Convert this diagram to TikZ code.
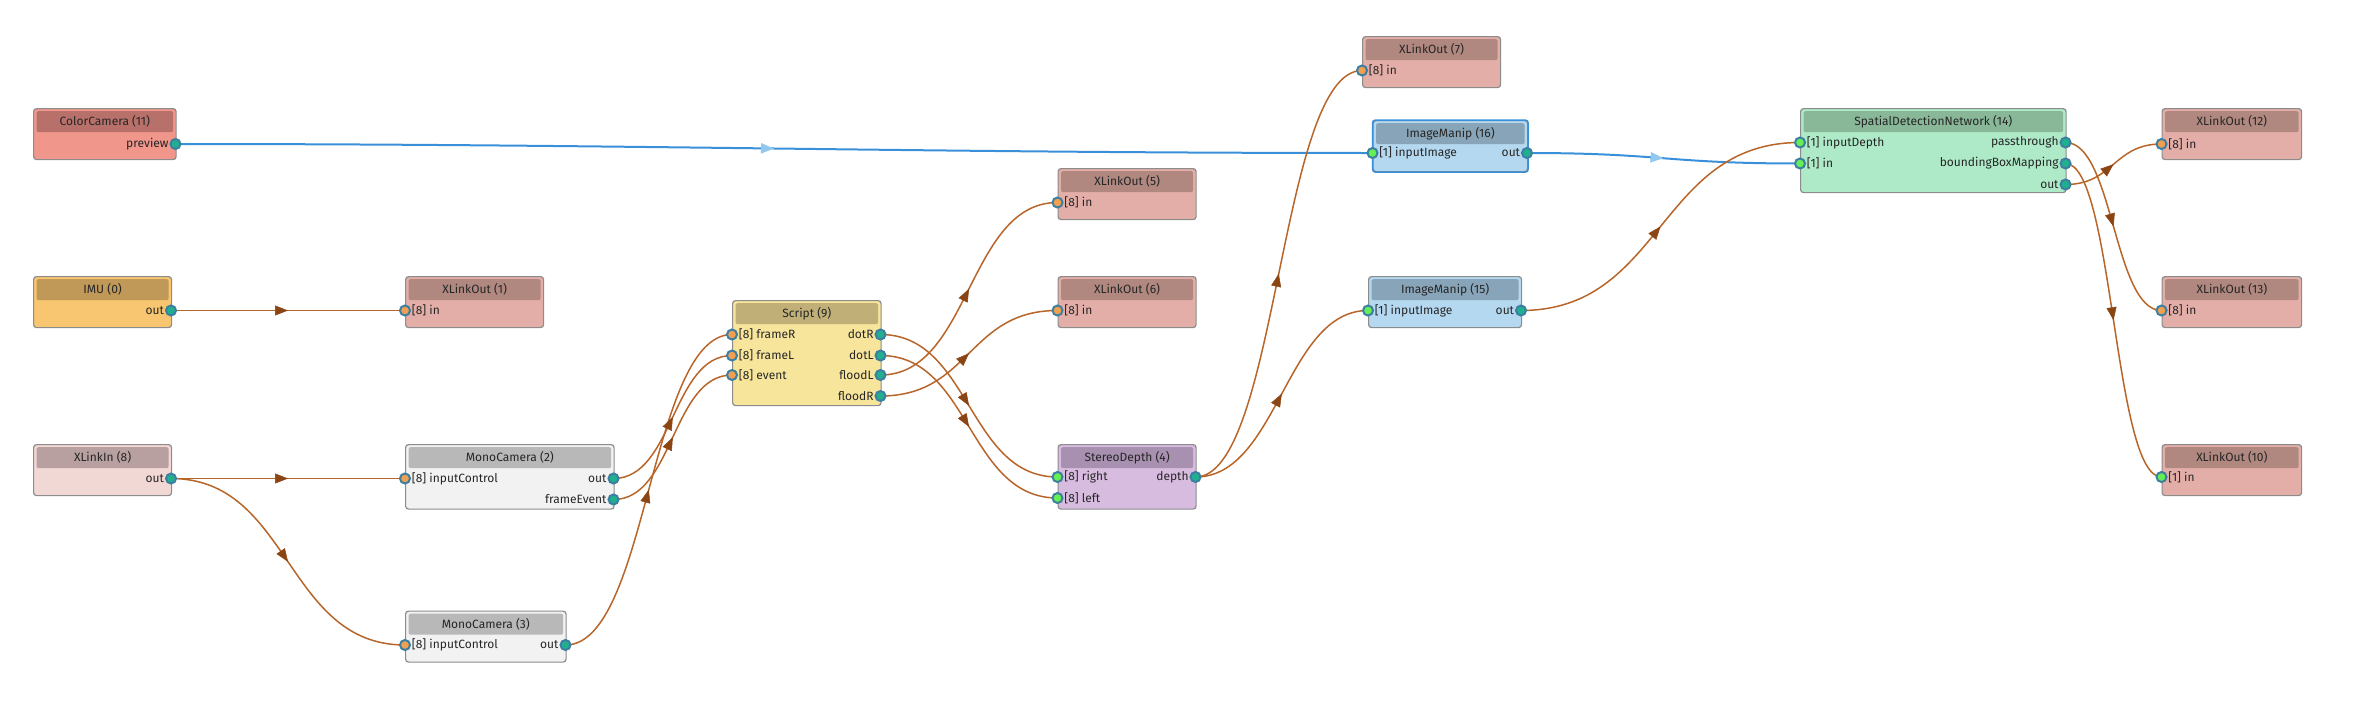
\documentclass[tikz,border=0pt]{standalone}
\usepackage{fontspec}
\setmainfont{Fira Sans}
\usetikzlibrary{calc,arrows.meta,decorations.markings}
\definecolor{cchd}{HTML}{B8706A}\definecolor{ccbd}{HTML}{F0968A}
\definecolor{imuhd}{HTML}{C09858}\definecolor{imubd}{HTML}{F8C570}
\definecolor{xohd}{HTML}{B08880}\definecolor{xobd}{HTML}{E4AEA8}
\definecolor{xihd}{HTML}{B8A0A0}\definecolor{xibd}{HTML}{F2D8D5}
\definecolor{mchd}{HTML}{B8B8B8}\definecolor{mcbd}{HTML}{F2F2F2}
\definecolor{schd}{HTML}{C0B078}\definecolor{scbd}{HTML}{F8E59C}
\definecolor{sdhd}{HTML}{A890B0}\definecolor{sdbd}{HTML}{D8BCE0}
\definecolor{imhd}{HTML}{88A4B8}\definecolor{imbd}{HTML}{B4D8F0}
\definecolor{nnhd}{HTML}{88B898}\definecolor{nnbd}{HTML}{AEEAC8}
\definecolor{pout}{HTML}{20B090}\definecolor{pin8}{HTML}{F0A050}\definecolor{pin1}{HTML}{66EE55}
\definecolor{ring}{HTML}{3D7FA0}\definecolor{wirec}{HTML}{B8652A}\definecolor{arrc}{HTML}{8B4513}
\definecolor{bluew}{HTML}{3A90D8}\definecolor{bluea}{HTML}{90C8F0}
\pgfdeclarelayer{bg}\pgfsetlayers{bg,main}
\tikzset{
 blkbody/.style={draw=black!45,line width=1.2pt,rounded corners=3pt,inner sep=0pt},
 hdr/.style={rounded corners=2pt,inner sep=0pt,minimum height=21pt,font=\fontsize{12}{14}\selectfont,text=black!85},
 port/.style={circle,draw=ring,line width=2pt,minimum size=10pt,inner sep=0pt},
 lbl/.style={font=\fontsize{12}{14}\selectfont,inner sep=0pt,text=black!85},
 wire/.style={draw=wirec,line width=1.5pt,postaction={decorate},
   decoration={markings,mark=at position 0.5 with {\arrow[arrc,line width=0.5pt]{Triangle[length=13pt,width=10pt]}}}},
 bwire/.style={draw=bluew,line width=2pt,postaction={decorate},
   decoration={markings,mark=at position 0.5 with {\arrow[bluea]{Triangle[length=13pt,width=10pt]}}}},
}
\newcommand\blk[7]{%
 \node[blkbody,fill=#6bd,minimum width=#4*1.5pt,minimum height=#5*1.5pt,anchor=north west] (#1) at (#2,#3) {};
 \node[hdr,fill=#6hd,minimum width=(#4-4)*1.5pt,anchor=north] (#1-h) at ($(#1.north)+(0,2)$) {#7};}
\newcommand\inp[5]{\node[port,fill=#4] (#1) at (#2,#3) {};\node[lbl,anchor=west] at ($(#1)+(4.5,0)$) {#5};}
\newcommand\outp[4]{\node[port,fill=pout] (#1) at (#2,#3) {};\node[lbl,anchor=east] at ($(#1)+(-4.5,0)$) {#4};}
\newcommand\edge[4][wire]{\draw[#1] (#2.center) .. controls ($(#2.center)+(#4,0)$) and ($(#3.center)+(-#4,0)$) .. (#3.center);}
\begin{document}
\begin{tikzpicture}[x=1.5pt,y=-1.5pt]
\useasboundingbox (0,0) rectangle (1568.67,477.33);
% blocks
\blk{cc}{22}{72}{95}{34}{cc}{ColorCamera (11)}
\outp{cc-preview}{117}{96}{preview}
\blk{imu}{22}{184}{92}{34}{imu}{IMU (0)}
\outp{imu-out}{114}{207}{out}
\blk{x1}{270}{184}{92}{34}{xo}{XLinkOut (1)}
\inp{x1-in}{270}{207}{pin8}{[8] in}
\blk{xin}{22}{296}{92}{34}{xi}{XLinkIn (8)}
\outp{xin-out}{114}{319}{out}
\blk{m2}{270}{296}{139}{43}{mc}{MonoCamera (2)}
\inp{m2-ic}{270}{319}{pin8}{[8] inputControl}
\outp{m2-out}{409}{319}{out}
\outp{m2-fe}{409}{333}{frameEvent}
\blk{m3}{270}{407}{107}{34}{mc}{MonoCamera (3)}
\inp{m3-ic}{270}{430}{pin8}{[8] inputControl}
\outp{m3-out}{377}{430}{out}
\blk{s}{488}{200}{99}{70}{sc}{Script (9)}
\inp{s-fr}{488}{223}{pin8}{[8] frameR}
\inp{s-fl}{488}{237}{pin8}{[8] frameL}
\inp{s-ev}{488}{250}{pin8}{[8] event}
\outp{s-dr}{587}{223}{dotR}
\outp{s-dl}{587}{237}{dotL}
\outp{s-flL}{587}{250}{floodL}
\outp{s-flR}{587}{264}{floodR}
\blk{x5}{705}{112}{92}{34}{xo}{XLinkOut (5)}
\inp{x5-in}{705}{135}{pin8}{[8] in}
\blk{x6}{705}{184}{92}{34}{xo}{XLinkOut (6)}
\inp{x6-in}{705}{207}{pin8}{[8] in}
\blk{sd}{705}{296}{92}{43}{sd}{StereoDepth (4)}
\inp{sd-r}{705}{318}{pin1}{[8] right}
\inp{sd-l}{705}{332}{pin1}{[8] left}
\outp{sd-d}{797}{318}{depth}
\blk{x7}{908}{24}{92}{34}{xo}{XLinkOut (7)}
\inp{x7-in}{908}{47}{pin8}{[8] in}
\blk{im16}{915}{80}{103}{34}{im}{ImageManip (16)}
\draw[bluew,line width=1.5pt,rounded corners=3pt] (im16.north west) rectangle (im16.south east);
\inp{im16-in}{915}{102}{pin1}{[1] inputImage}
\outp{im16-out}{1018}{102}{out}
\blk{im15}{912}{184}{102}{34}{im}{ImageManip (15)}
\inp{im15-in}{912}{207}{pin1}{[1] inputImage}
\outp{im15-out}{1014}{207}{out}
\blk{nn}{1200}{72}{177}{56}{nn}{SpatialDetectionNetwork (14)}
\inp{nn-d}{1200}{95}{pin1}{[1] inputDepth}
\inp{nn-in}{1200}{109}{pin1}{[1] in}
\outp{nn-p}{1377}{95}{passthrough}
\outp{nn-b}{1377}{109}{boundingBoxMapping}
\outp{nn-o}{1377}{123}{out}
\blk{x12}{1441}{72}{93}{34}{xo}{XLinkOut (12)}
\inp{x12-in}{1441}{96}{pin8}{[8] in}
\blk{x13}{1441}{184}{93}{34}{xo}{XLinkOut (13)}
\inp{x13-in}{1441}{207}{pin8}{[8] in}
\blk{x10}{1441}{296}{93}{34}{xo}{XLinkOut (10)}
\inp{x10-in}{1441}{318}{pin1}{[1] in}
% wires
\begin{pgfonlayer}{bg}
\edge[bwire]{cc-preview}{im16-in}{300}
\edge[bwire]{im16-out}{nn-in}{90}
\edge{imu-out}{x1-in}{60}
\edge{xin-out}{m2-ic}{60}
\edge{xin-out}{m3-ic}{80}
\edge{m3-out}{s-fr}{55}
\edge{m2-out}{s-fl}{40}
\edge{m2-fe}{s-ev}{40}
\edge{s-dr}{sd-r}{60}
\edge{s-dl}{sd-l}{60}
\edge{s-flL}{x5-in}{60}
\edge{s-flR}{x6-in}{60}
\edge{sd-d}{x7-in}{55}
\edge{sd-d}{im15-in}{55}
\edge{im15-out}{nn-d}{95}
\edge{nn-p}{x13-in}{32}
\edge{nn-b}{x10-in}{32}
\edge{nn-o}{x12-in}{32}
\end{pgfonlayer}
\end{tikzpicture}
\end{document}
